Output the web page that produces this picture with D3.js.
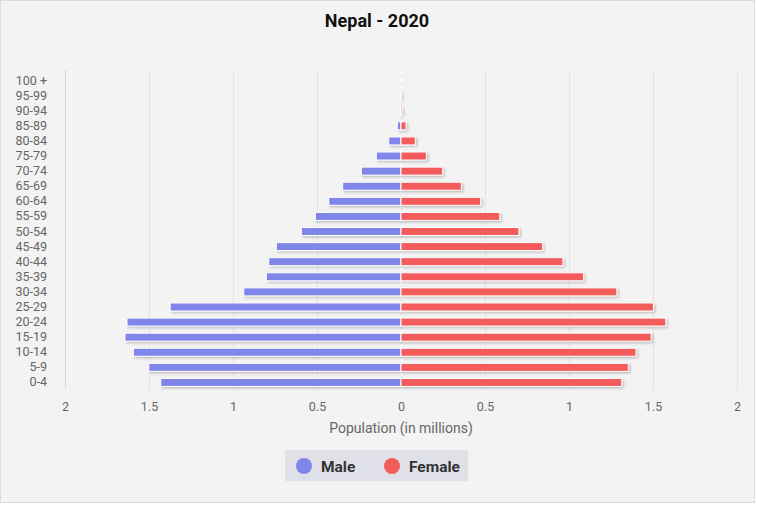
<!DOCTYPE html>
<html>
<head>
<meta charset="utf-8">
<script src="https://cdn.jsdelivr.net/npm/d3@7"></script>
<style>
  body { margin: 0; background: #fff; }
  svg { display: block; font-family: Roboto, "Noto Sans", sans-serif; }
</style>
</head>
<body>
<script>
// Data (millions)
const ages = ["0-4","5-9","10-14","15-19","20-24","25-29","30-34","35-39","40-44","45-49",
  "50-54","55-59","60-64","65-69","70-74","75-79","80-84","85-89","90-94","95-99","100 +"];
const male = [1.430, 1.501, 1.593, 1.643, 1.631, 1.374, 0.936, 0.802, 0.787, 0.742,
  0.593, 0.510, 0.430, 0.347, 0.236, 0.147, 0.073, 0.022, 0.005, 0.001, 0.000];
const female = [1.314, 1.353, 1.399, 1.489, 1.576, 1.503, 1.285, 1.087, 0.964, 0.843,
  0.702, 0.588, 0.474, 0.359, 0.248, 0.151, 0.085, 0.030, 0.006, 0.001, 0.000];
const xTicks = [-2, -1.5, -1, -0.5, 0, 0.5, 1, 1.5, 2];

const W = 757, H = 506;
const margin = { top: 73, right: 20, bottom: 116, left: 65 };

const svg = d3.select("body").append("svg")
  .attr("width", W).attr("height", H);

// background
svg.append("rect").attr("x", 0.5).attr("y", 0.5)
  .attr("width", W - 3).attr("height", H - 4)
  .attr("fill", "#f3f3f3").attr("stroke", "#dcdcdc");

const defs = svg.append("defs");
const f = defs.append("filter").attr("id", "shadow")
  .attr("x", "-5%").attr("y", "-50%").attr("width", "110%").attr("height", "200%");
f.append("feDropShadow").attr("dx", 1.5).attr("dy", 1.5).attr("stdDeviation", 0.8)
  .attr("flood-color", "#000").attr("flood-opacity", 0.22);

const x = d3.scaleLinear().domain([-2, 2]).range([margin.left, 737]);
const y = d3.scaleBand().domain(ages.slice().reverse())
  .range([margin.top, H - margin.bottom]).paddingInner(0.4).paddingOuter(0.2);

// title
svg.append("text").attr("x", 377).attr("y", 27)
  .attr("text-anchor", "middle").attr("font-size", 18).attr("font-weight", "bold")
  .attr("fill", "#111").text("Nepal - 2020");

// grid
svg.append("g").selectAll("line").data(xTicks.filter(d => d !== -2)).join("line")
  .attr("x1", d => x(d) + 0.5).attr("x2", d => x(d) + 0.5)
  .attr("y1", margin.top - 2).attr("y2", H - margin.bottom)
  .attr("stroke", "#e2e2e2").attr("stroke-width", 1);

// zero plot line
svg.append("line")
  .attr("x1", x(0) + 0.5).attr("x2", x(0) + 0.5)
  .attr("y1", margin.top - 2).attr("y2", H - margin.bottom)
  .attr("stroke", "#fff").attr("stroke-width", 2).attr("stroke-dasharray", "4,3");

// left axis line
svg.append("line")
  .attr("x1", margin.left + 0.5).attr("x2", margin.left + 0.5)
  .attr("y1", margin.top - 3).attr("y2", H - margin.bottom - 2)
  .attr("stroke", "#ccd6eb");

// bars
const rows = ages.map((a, i) => ({ age: a, m: male[i], f: female[i] }));
const bh = 8;
const bars = svg.append("g").attr("filter", "url(#shadow)");
bars.selectAll(".m").data(rows).join("rect")
  .attr("x", d => x(-d.m)).attr("width", d => x(0) - x(-d.m))
  .attr("y", d => y(d.age) + y.bandwidth() / 2 - bh / 2).attr("height", bh)
  .attr("fill", "#8085e9").attr("stroke", "#fff").attr("stroke-width", 1);
bars.selectAll(".f").data(rows).join("rect")
  .attr("x", x(0)).attr("width", d => x(d.f) - x(0))
  .attr("y", d => y(d.age) + y.bandwidth() / 2 - bh / 2).attr("height", bh)
  .attr("fill", "#f45b5b").attr("stroke", "#fff").attr("stroke-width", 1);

// y labels
const yAxis = d3.axisLeft(y).tickSize(0).tickPadding(18);
svg.append("g").attr("transform", `translate(${margin.left},0)`).call(yAxis)
  .call(g => g.select(".domain").remove())
  .selectAll("text").attr("font-size", 12.5).attr("fill", "#666")
  .attr("font-family", "Roboto, sans-serif");

// x labels
const xAxis = d3.axisBottom(x).tickValues(xTicks).tickSize(0).tickPadding(12)
  .tickFormat(d => d3.format("")(Math.abs(d)));
svg.append("g").attr("transform", `translate(0,${H - margin.bottom})`).call(xAxis)
  .call(g => g.select(".domain").remove())
  .selectAll("text").attr("font-size", 12.5).attr("fill", "#666")
  .attr("font-family", "Roboto, sans-serif");

svg.append("text").attr("x", x(0)).attr("y", 433)
  .attr("text-anchor", "middle").attr("font-size", 14).attr("fill", "#666")
  .text("Population (in millions)");

// legend
const lg = svg.append("g");
lg.append("rect").attr("x", 285).attr("y", 450).attr("width", 183).attr("height", 31)
  .attr("fill", "#dfe0e8");
const items = [{ name: "Male", c: "#8085e9", cx: 304 }, { name: "Female", c: "#f45b5b", cx: 392 }];
items.forEach(it => {
  lg.append("circle").attr("cx", it.cx).attr("cy", 466).attr("r", 8).attr("fill", it.c);
  lg.append("text").attr("x", it.cx + 17).attr("y", 472)
    .attr("font-size", 15.5).attr("font-weight", "bold").attr("fill", "#333").text(it.name);
});
</script>
</body>
</html>
